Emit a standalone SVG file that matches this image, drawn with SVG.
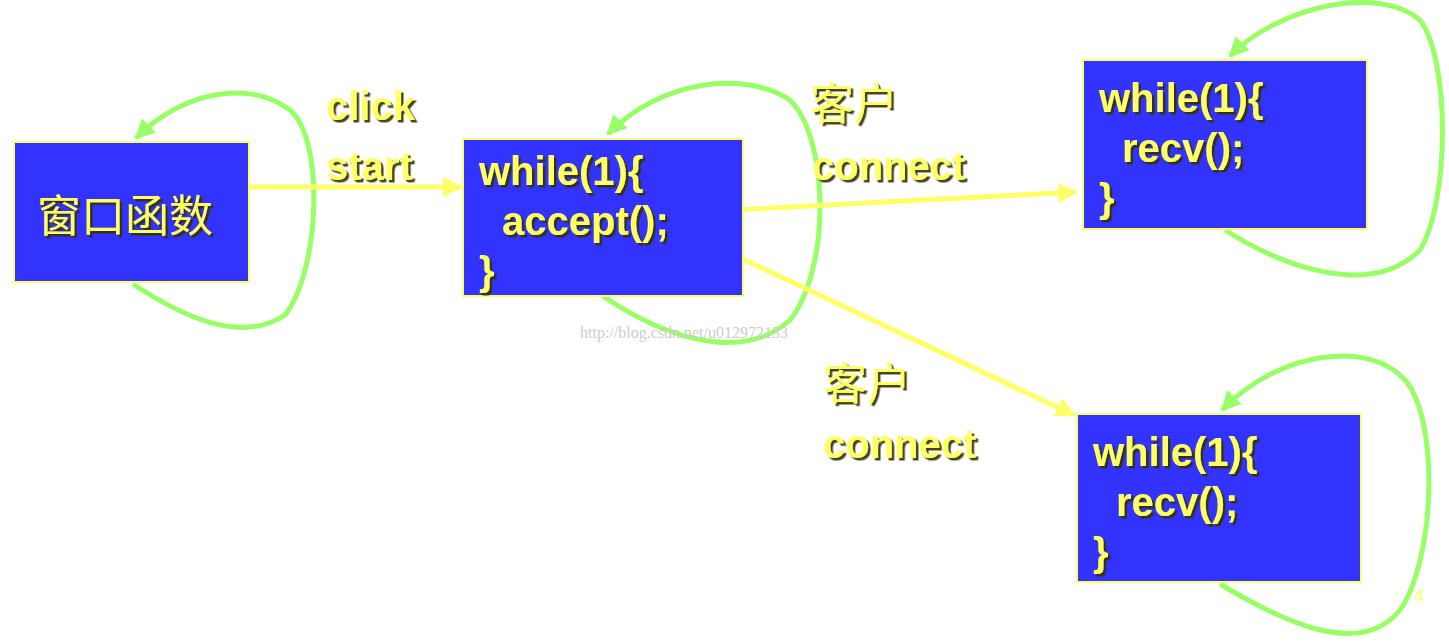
<svg xmlns="http://www.w3.org/2000/svg" width="1449" height="644" viewBox="0 0 1449 644">
<defs>
<filter id="sh" x="-10%" y="-10%" width="130%" height="140%"><feDropShadow dx="2.5" dy="2.5" stdDeviation="0.6" flood-color="#333300" flood-opacity="0.9"/></filter>
<marker id="ay" viewBox="0 0 10 10" refX="9" refY="5" markerWidth="4" markerHeight="4" orient="auto" markerUnits="strokeWidth"><path d="M0,0L10,5L0,10z" fill="#FFFF66"/></marker>
<marker id="ag" viewBox="0 0 10 10" refX="9" refY="5" markerWidth="4" markerHeight="4" orient="auto" markerUnits="strokeWidth"><path d="M0,0L10,5L0,10z" fill="#99FF66"/></marker>
<style>
.box{fill:#3333FF;stroke:#FFFF66;stroke-width:2}
.t{font-family:"Liberation Sans",Arial,sans-serif;font-weight:bold;font-size:40px;fill:#FFFF66;filter:url(#sh)}
.c{font-family:"Liberation Sans","Noto Sans CJK SC",sans-serif;font-size:44px;fill:#FFFF66;filter:url(#sh)}
.g{fill:none;stroke:#99FF66;stroke-width:5;marker-end:url(#ag)}
.y{fill:none;stroke:#FFFF66;stroke-width:5;marker-end:url(#ay)}
</style>
</defs>
<rect width="1449" height="644" fill="#fff"/>
<g id="connectors">
<path class="g" d="M133,284 C180,315 240,345 285,315 C320,270 325,140 290,110 C250,80 185,90 136,138"/>
<path class="g" d="M603,296 C660,335 740,365 790,320 C830,270 830,140 790,100 C745,70 660,80 608,134"/>
<path class="g" d="M1225,230 C1280,265 1370,300 1420,250 C1450,200 1450,60 1420,20 C1380,-15 1280,5 1230,56"/>
<path class="g" d="M1220,584 C1280,620 1360,660 1400,610 C1435,560 1440,420 1405,380 C1370,340 1280,350 1222,410"/>
<path class="y" d="M228,187 L461,187"/>
<path class="y" d="M677,213 L1076,192"/>
<path class="y" d="M677,228 L1074,415"/>
</g>
<g id="n1"><rect class="box" x="14" y="142" width="235" height="140"/><text class="c" x="37" y="232">窗口函数</text></g>
<g id="n2"><rect class="box" x="463" y="139" width="280" height="157"/><text class="t" x="479" y="185">while(1){</text><text class="t" x="479" y="235"> <tspan x="502">accept();</tspan></text><text class="t" x="479" y="285">}</text></g>
<g id="n3"><rect class="box" x="1083" y="60" width="284" height="169"/><text class="t" x="1099" y="112">while(1){</text><text class="t" x="1122" y="162">recv();</text><text class="t" x="1099" y="212">}</text></g>
<g id="n4"><rect class="box" x="1077" y="414" width="284" height="168"/><text class="t" x="1093" y="466">while(1){</text><text class="t" x="1116" y="516">recv();</text><text class="t" x="1093" y="566">}</text></g>
<g id="labels">
<text class="t" x="326" y="120">click</text><text class="t" x="326" y="180">start</text>
<text class="c" x="810" y="120">客户</text><text class="t" x="812" y="180">connect</text>
<text class="c" x="823" y="400">客户</text><text class="t" x="823" y="458">connect</text>
<text x="580" y="338" font-family="Liberation Serif,serif" font-size="16" fill="#cccccc">http://blog.csdn.net/u012972133</text>
<text x="1414" y="602" font-family="Liberation Sans,sans-serif" font-size="18" fill="#FFFF66">4</text>
</g>
</svg>
